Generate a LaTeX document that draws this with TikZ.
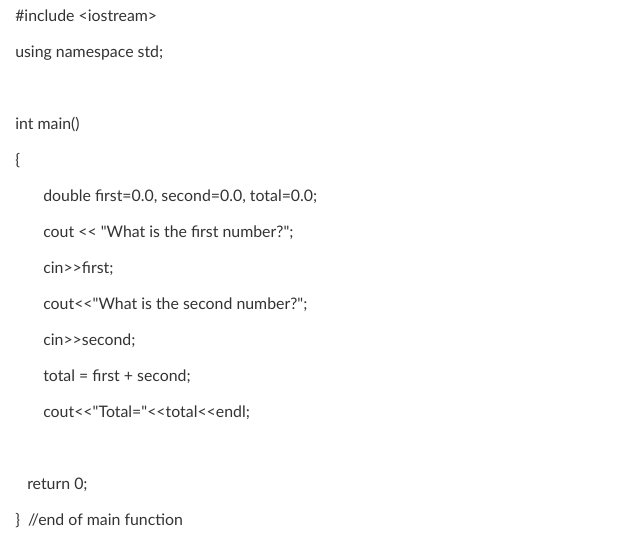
\documentclass[tikz,border=0pt]{standalone}
\usepackage{fontspec}
\setmainfont{Lato}[Ligatures=TeXOff]
\definecolor{codegray}{HTML}{333333}
\begin{document}
\begin{tikzpicture}[x=0.75pt,y=-0.75pt,
  codeline/.style={anchor=base west,inner sep=0pt,text=codegray,font=\fontsize{11.9pt}{13pt}\selectfont}]
\useasboundingbox (0,0) rectangle (626,549);
\node[codeline] (l1) at (15,22) {\#include <iostream>};
\node[codeline] (l2) at (15,58) {using namespace std;};
\node[codeline] (l3) at (15,130) {int main()};
\node[codeline] (l4) at (15,166) {\{};
\node[codeline] (l5) at (43,202) {double first=0.0, second=0.0, total=0.0;};
\node[codeline] (l6) at (43,238) {cout << "What is the first number?";};
\node[codeline] (l7) at (43,274) {cin>>first;};
\node[codeline] (l8) at (43,310) {cout<<"What is the second number?";};
\node[codeline] (l9) at (43,346) {cin>>second;};
\node[codeline] (l10) at (43,382) {total = first + second;};
\node[codeline] (l11) at (43,418) {cout<<"Total="<<total<<endl;};
\node[codeline] (l12) at (27,490) {return 0;};
\node[codeline] (l13) at (15,526) {\}~ //end of main function};
\end{tikzpicture}
\end{document}
